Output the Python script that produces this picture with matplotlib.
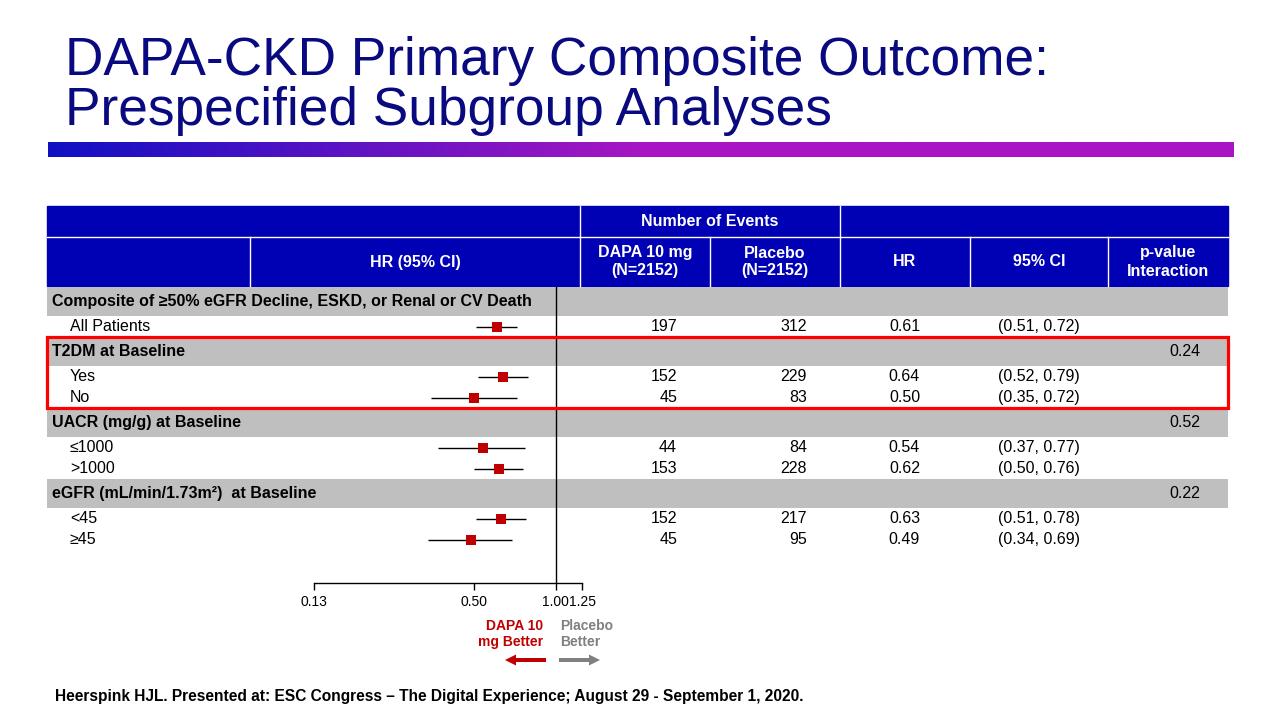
import numpy as np
import matplotlib
matplotlib.use("Agg")
import matplotlib.pyplot as plt
from matplotlib.patches import Rectangle, FancyArrow

plt.rcParams['font.family'] = ['Liberation Sans', 'DejaVu Sans']

# ---- data ----
group_titles = [
    "Composite of ≥50% eGFR Decline, ESKD, or Renal or CV Death",
    "T2DM at Baseline",
    "UACR (mg/g) at Baseline",
    "eGFR (mL/min/1.73m²)  at Baseline",
]
group_pvalues = ["", "0.24", "0.52", "0.22"]
subgroup_labels = [["All Patients"], ["Yes", "No"], ["≤1000", ">1000"], ["<45", "≥45"]]
dapa_events = [[197], [152, 45], [44, 153], [152, 45]]
placebo_events = [[312], [229, 83], [84, 228], [217, 95]]
hr = [[0.61], [0.64, 0.50], [0.54, 0.62], [0.63, 0.49]]
ci_low = [[0.51], [0.52, 0.35], [0.37, 0.50], [0.51, 0.34]]
ci_high = [[0.72], [0.79, 0.72], [0.77, 0.76], [0.78, 0.69]]
x_ticks = [0.13, 0.50, 1.00, 1.25]
x_ticklabels = ["0.13", "0.50", "1.00", "1.25"]

# ---- styles ----
W, H = 1280, 720
NAVY = "#0A0A80"
HEAD_BLUE = "#0000B4"
GRAY = "#BFBFBF"
RED = "#C00000"
TL, TR = 47, 1228
HEAD_H, SUB_H = 29, 21
BODY_TOP = 287
AXIS_Y = 583
FS = 11.5

fig = plt.figure(figsize=(W / 100, H / 100), dpi=100)
ax = fig.add_axes([0, 0, 1, 1])
ax.set_xlim(0, W)
ax.set_ylim(H, 0)
ax.axis("off")

# title
ax.text(65, 75, "DAPA-CKD Primary Composite Outcome:", fontsize=38.3, color=NAVY, va="baseline")
ax.text(65, 125, "Prespecified Subgroup Analyses", fontsize=38.3, color=NAVY, va="baseline")

# gradient bar
xs = np.linspace(48, 1234, 600)
f = np.clip((xs - 48) / (640 - 48), 0, 1)[:, None]
left_c = np.array([16, 16, 196]) / 255
right_c = np.array([167, 22, 194]) / 255
grad = (left_c * (1 - f) + right_c * f)[None, :, :]
ax.imshow(grad, extent=[48, 1234, 157, 142], aspect="auto", zorder=1)

# table header
ax.add_patch(Rectangle((TL, 206), TR - TL, 286 - 206, color=HEAD_BLUE, zorder=1))
ax.plot([TL, TR], [236.5, 236.5], color="white", lw=1, zorder=2)
for xv in [580, 840]:
    ax.plot([xv, xv], [206, 286], color="white", lw=1, zorder=2)
for xv in [250, 710, 970, 1108]:
    ax.plot([xv, xv], [237, 286], color="white", lw=1, zorder=2)
hkw = dict(color="white", fontsize=FS, fontweight="bold", ha="center", va="center",
           linespacing=1.25, zorder=3)
ax.text(710, 221.5, "Number of Events", **hkw)
ax.text(415, 262, "HR (95% CI)", **hkw)
ax.text(645, 262, "DAPA 10 mg\n(N=2152)", **hkw)
ax.text(775, 262, "Placebo\n(N=2152)", **hkw)
ax.text(905, 262, "HR", **hkw)
ax.text(1039, 262, "95% CI", **hkw)
ax.text(1168, 262, "p-value\nInteraction", **hkw)

# body rows
y = BODY_TOP
row_centers, hr_all, lo_all, hi_all = [], [], [], []
group_bounds = []
for g, title in enumerate(group_titles):
    g_top = y
    ax.add_patch(Rectangle((TL, y), TR - TL, HEAD_H, color=GRAY, lw=0, zorder=1))
    yc = y + HEAD_H / 2
    ax.text(52, yc, title, fontsize=FS, fontweight="bold", va="center", zorder=3)
    if group_pvalues[g]:
        ax.text(1200, yc, group_pvalues[g], fontsize=FS, ha="right", va="center", zorder=3)
    y += HEAD_H
    for i, lab in enumerate(subgroup_labels[g]):
        yc = y + SUB_H / 2
        ax.text(70, yc, lab, fontsize=FS, va="center")
        ax.text(677, yc, str(dapa_events[g][i]), fontsize=FS, ha="right", va="center")
        ax.text(807, yc, str(placebo_events[g][i]), fontsize=FS, ha="right", va="center")
        ax.text(920, yc, f"{hr[g][i]:.2f}", fontsize=FS, ha="right", va="center")
        ax.text(998, yc, f"({ci_low[g][i]:.2f}, {ci_high[g][i]:.2f})", fontsize=FS,
                ha="left", va="center")
        row_centers.append(yc)
        hr_all.append(hr[g][i])
        lo_all.append(ci_low[g][i])
        hi_all.append(ci_high[g][i])
        y += SUB_H
    group_bounds.append((g_top, y))

# highlight box around T2DM group
t_top, t_bot = group_bounds[1]
fig.add_artist(Rectangle((TL, t_top), TR - TL, t_bot - t_top, fill=False,
                         edgecolor="#FF0000", lw=2.3, transform=ax.transData, zorder=5))

# forest plot
fx0, fx1 = 314, 582
fax = fig.add_axes([fx0 / W, (H - AXIS_Y) / H, (fx1 - fx0) / W, (AXIS_Y - BODY_TOP) / H])
fax.patch.set_visible(False)
fax.set_xscale("log")
fax.set_xlim(x_ticks[0], x_ticks[-1])
fax.set_ylim(AXIS_Y, BODY_TOP)
fax.hlines(row_centers, lo_all, hi_all, color="black", lw=1)
fax.plot(hr_all, row_centers, "s", color=RED, markersize=6.5, markeredgewidth=0)
fax.axvline(1.0, color="black", lw=1)
for s in ["top", "left", "right"]:
    fax.spines[s].set_visible(False)
fax.spines["bottom"].set_linewidth(1)
fax.set_yticks([])
fax.set_xticks(x_ticks)
fax.set_xticklabels(x_ticklabels)
fax.minorticks_off()
fax.tick_params(axis="x", direction="out", length=5, width=1, labelsize=10, pad=3.5)

# direction arrows
ax.text(543, 634, "DAPA 10\nmg Better", color=RED, fontsize=10, fontweight="bold",
        ha="right", va="center", linespacing=1.15)
ax.text(560, 634, "Placebo\nBetter", color="#808080", fontsize=10, fontweight="bold",
        ha="left", va="center", linespacing=1.15)
ax.add_patch(FancyArrow(546, 660, -41, 0, width=4, head_width=11, head_length=11,
                        length_includes_head=True, color=RED, lw=0))
ax.add_patch(FancyArrow(559, 660, 41, 0, width=4, head_width=11, head_length=11,
                        length_includes_head=True, color="#808080", lw=0))

# footer
ax.text(55, 697, "Heerspink HJL. Presented at: ESC Congress \u2013 The Digital Experience; "
        "August 29 - September 1, 2020.", fontsize=11.2, fontweight="bold", va="center")

fig.savefig("out.png", dpi=100)
